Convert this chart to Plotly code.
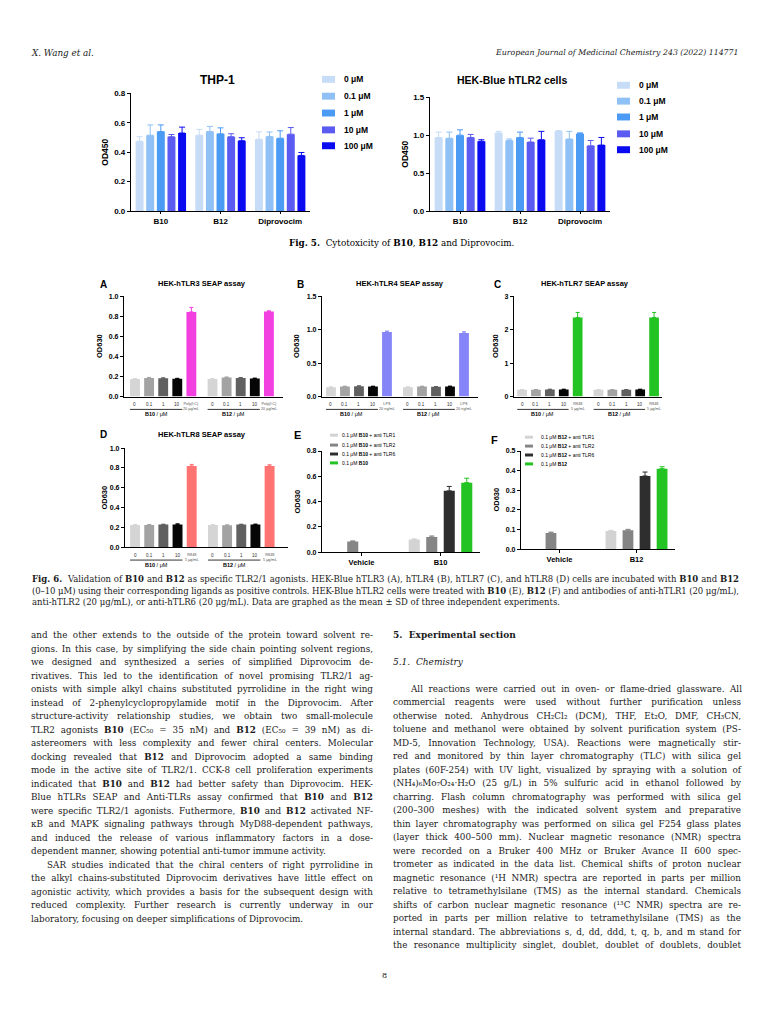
import json
import plotly.graph_objects as go

W, H = 768, 1024
SANS = "Liberation Sans"
SERIF = "DejaVu Serif"

# ================= Fig. 5 data =================
fig5_groups = ["B10", "B12", "Diprovocim"]
fig5_doses = ["0 μM", "0.1 μM", "1 μM", "10 μM", "100 μM"]
fig5_colors = ["#c7dcf6", "#8fc0f6", "#4b9bf5", "#5b5bf1", "#0b0bf1"]
thp1_mean = [[0.475, 0.515, 0.488],
             [0.515, 0.540, 0.507],
             [0.540, 0.525, 0.495],
             [0.505, 0.505, 0.522],
             [0.530, 0.478, 0.378]]
thp1_sd = [[0.030, 0.040, 0.050],
           [0.070, 0.035, 0.030],
           [0.045, 0.040, 0.050],
           [0.015, 0.020, 0.045],
           [0.040, 0.020, 0.020]]
hek2_mean = [[0.97, 1.03, 1.05],
             [0.96, 0.93, 0.95],
             [1.00, 0.97, 1.02],
             [0.97, 0.91, 0.86],
             [0.92, 0.94, 0.87]]
hek2_sd = [[0.07, 0.02, 0.01],
           [0.08, 0.02, 0.10],
           [0.07, 0.07, 0.01],
           [0.04, 0.05, 0.07],
           [0.02, 0.11, 0.10]]

# ================= Fig. 6 A-D data =================
seap_doses = ["0", "0.1", "1", "10"]
seap_compounds = ["B10", "B12"]
seap_grays = ["#d5d5d5", "#a3a3a3", "#606060", "#060606"]

tlr3_b10 = [0.175, 0.185, 0.182, 0.178]
tlr3_b12 = [0.175, 0.190, 0.185, 0.180]
tlr3_b10_sd = [0.004, 0.006, 0.005, 0.004]
tlr3_b12_sd = [0.004, 0.005, 0.005, 0.004]
tlr3_ctrl = [0.845, 0.850]
tlr3_ctrl_sd = [0.045, 0.006]

tlr4_b10 = [0.140, 0.150, 0.155, 0.150]
tlr4_b12 = [0.140, 0.150, 0.145, 0.150]
tlr4_b10_sd = [0.004, 0.005, 0.006, 0.005]
tlr4_b12_sd = [0.004, 0.005, 0.005, 0.006]
tlr4_ctrl = [0.965, 0.950]
tlr4_ctrl_sd = [0.015, 0.020]

tlr7_b10 = [0.20, 0.20, 0.21, 0.21]
tlr7_b12 = [0.20, 0.20, 0.20, 0.21]
tlr7_b10_sd = [0.01, 0.01, 0.01, 0.01]
tlr7_b12_sd = [0.01, 0.01, 0.01, 0.01]
tlr7_ctrl = [2.37, 2.37]
tlr7_ctrl_sd = [0.15, 0.15]

tlr8_b10 = [0.225, 0.225, 0.228, 0.230]
tlr8_b12 = [0.225, 0.222, 0.228, 0.228]
tlr8_b10_sd = [0.003, 0.003, 0.004, 0.006]
tlr8_b12_sd = [0.003, 0.003, 0.004, 0.005]
tlr8_ctrl = [0.820, 0.820]
tlr8_ctrl_sd = [0.015, 0.012]

ctrl_labels = ["Poly(I:C)<br>20 μg/mL", "LPS<br>20 ng/mL", "R848<br>5 μg/mL", "R848<br>5 μg/mL"]
ctrl_colors = ["#f23fe0", "#8585f8", "#22c322", "#ff7373"]
seap_titles = ["HEK-hTLR3 SEAP assay", "HEK-hTLR4 SEAP assay",
               "HEK-hTLR7 SEAP assay", "HEK-hTLR8 SEAP assay"]

# ================= Fig. 6 E-F data =================
anti_categories_e = ["Vehicle", "B10"]
anti_categories_f = ["Vehicle", "B12"]
anti_suffix = [" + anti TLR1", " + anti TLR2", " + anti TLR6", ""]
anti_colors = ["#d3d3d3", "#858585", "#2e2e2e", "#22c322"]

e_tlr1 = [None, 0.100]
e_tlr2 = [0.085, 0.120]
e_tlr6 = [None, 0.485]
e_only = [None, 0.550]
e_tlr1_sd = [0, 0.005]
e_tlr2_sd = [0.004, 0.008]
e_tlr6_sd = [0, 0.035]
e_only_sd = [0, 0.035]

f_tlr1 = [None, 0.093]
f_tlr2 = [0.083, 0.097]
f_tlr6 = [None, 0.373]
f_only = [None, 0.410]
f_tlr1_sd = [0, 0.003]
f_tlr2_sd = [0.004, 0.004]
f_tlr6_sd = [0, 0.020]
f_only_sd = [0, 0.010]

# ================= page text =================
header_left = "X. Wang et al."
header_right = "European Journal of Medicinal Chemistry 243 (2022) 114771"
fig5_caption = "<b>Fig. 5.</b>  Cytotoxicity of <b>B10</b>, <b>B12</b> and Diprovocim."
fig6_caption = [
    "<b>Fig. 6.</b>  Validation of <b>B10</b> and <b>B12</b> as specific TLR2/1 agonists. HEK-Blue hTLR3 (A), hTLR4 (B), hTLR7 (C), and hTLR8 (D) cells are incubated with <b>B10</b> and <b>B12</b>",
    "(0–10 μM) using their corresponding ligands as positive controls. HEK-Blue hTLR2 cells were treated with <b>B10</b> (E), <b>B12</b> (F) and antibodies of anti-hTLR1 (20 μg/mL),",
    "anti-hTLR2 (20 μg/mL), or anti-hTLR6 (20 μg/mL). Data are graphed as the mean ± SD of three independent experiments.",
]
left_column = [
    "and the other extends to the outside of the protein toward solvent re-",
    "gions. In this case, by simplifying the side chain pointing solvent regions,",
    "we designed and synthesized a series of simplified Diprovocim de-",
    "rivatives. This led to the identification of novel promising TLR2/1 ag-",
    "onists with simple alkyl chains substituted pyrrolidine in the right wing",
    "instead of 2-phenylcyclopropylamide motif in the Diprovocim. After",
    "structure-activity relationship studies, we obtain two small-molecule",
    "TLR2 agonists <b>B10</b> (EC₅₀ = 35 nM) and <b>B12</b> (EC₅₀ = 39 nM) as di-",
    "astereomers with less complexity and fewer chiral centers. Molecular",
    "docking revealed that <b>B12</b> and Diprovocim adopted a same binding",
    "mode in the active site of TLR2/1. CCK-8 cell proliferation experiments",
    "indicated that <b>B10</b> and <b>B12</b> had better safety than Diprovocim. HEK-",
    "Blue hTLRs SEAP and Anti-TLRs assay confirmed that <b>B10</b> and <b>B12</b>",
    "were specific TLR2/1 agonists. Futhermore, <b>B10</b> and <b>B12</b> activated NF-",
    "κB and MAPK signaling pathways through MyD88-dependent pathways,",
    "and induced the release of various inflammatory factors in a dose-",
    "dependent manner, showing potential anti-tumor immune activity.",
    "SAR studies indicated that the chiral centers of right pyrrolidine in",
    "the alkyl chains-substituted Diprovocim derivatives have little effect on",
    "agonistic activity, which provides a basis for the subsequent design with",
    "reduced complexity. Further research is currently underway in our",
    "laboratory, focusing on deeper simplifications of Diprovocim.",
]
left_indented = [17]
left_paragraph_ends = [16, 21]
right_heading = "<b>5.  Experimental section</b>"
right_subheading = "<i>5.1.  Chemistry</i>"
right_column = [
    "All reactions were carried out in oven- or flame-dried glassware. All",
    "commercial reagents were used without further purification unless",
    "otherwise noted. Anhydrous CH₂Cl₂ (DCM), THF, Et₂O, DMF, CH₃CN,",
    "toluene and methanol were obtained by solvent purification system (PS-",
    "MD-5, Innovation Technology, USA). Reactions were magnetically stir-",
    "red and monitored by thin layer chromatography (TLC) with silica gel",
    "plates (60F-254) with UV light, visualized by spraying with a solution of",
    "(NH₄)₆Mo₇O₂₄·H₂O (25 g/L) in 5% sulfuric acid in ethanol followed by",
    "charring. Flash column chromatography was performed with silica gel",
    "(200–300 meshes) with the indicated solvent system and preparative",
    "thin layer chromatography was performed on silica gel F254 glass plates",
    "(layer thick 400–500 mm). Nuclear magnetic resonance (NMR) spectra",
    "were recorded on a Bruker 400 MHz or Bruker Avance II 600 spec-",
    "trometer as indicated in the data list. Chemical shifts of proton nuclear",
    "magnetic resonance (¹H NMR) spectra are reported in parts per million",
    "relative to tetramethylsilane (TMS) as the internal standard. Chemicals",
    "shifts of carbon nuclear magnetic resonance (¹³C NMR) spectra are re-",
    "ported in parts per million relative to tetramethylsilane (TMS) as the",
    "internal standard. The abbreviations s, d, dd, ddd, t, q, b, and m stand for",
    "the resonance multiplicity singlet, doublet, doublet of doublets, doublet",
]
right_indented = [0]
page_number = "8"

# ================= helpers =================
def X(px):
    return px / W


def Y(py):
    return 1 - py / H


def err(sd, color, width=2.5):
    return dict(type="data", array=sd, arrayminus=[0] * len(sd), symmetric=False,
                color=color, thickness=1, width=width)


fig = go.Figure()
annotations = []
shapes = []
justify = {}   # annotation index -> target line width (px)


def txt(px, py, s, size, family=SANS, bold=False, italic=False, xanchor="left",
        yanchor="middle", angle=0, color="black", xref="paper", xval=None):
    annotations.append(dict(
        x=X(px) if xval is None else xval, y=Y(py), xref=xref, yref="paper", text=s,
        showarrow=False, xanchor=xanchor, yanchor=yanchor, textangle=angle,
        align=xanchor if xanchor in ("left", "right") else "center",
        borderpad=0,
        font=dict(family=family, size=size, color=color,
                  weight="bold" if bold else "normal",
                  style="italic" if italic else "normal")))
    return len(annotations) - 1


# axis boxes (left, right, top, bottom) in px
boxes = {
    1: (131, 310, 90, 209),
    2: (430, 610, 94, 209),
    3: (124, 283, 295, 396),
    4: (322, 478, 295, 396),
    5: (514, 662, 295, 396),
    6: (125, 288, 448, 548),
    7: (322, 480, 451, 553),
    8: (521, 675, 451, 550),
}

layout_axes = {}


def name(kind, i):
    return kind + ("axis" if i == 1 else "axis%d" % i)


def ref(kind, i):
    return kind if i == 1 else "%s%d" % (kind, i)


def ystyle(i, rng, dtick, fmt, size):
    l, r, t, b = boxes[i]
    layout_axes[name("y", i)] = dict(
        domain=[Y(b), Y(t)], range=rng, dtick=dtick, tick0=0, tickformat=fmt,
        anchor=ref("x", i), showline=True, linecolor="black", linewidth=1.2,
        ticks="outside", ticklen=3, tickwidth=1.2, tickcolor="black",
        showgrid=False, zeroline=False, fixedrange=True,
        tickfont=dict(family=SANS, size=size, color="black", weight="bold"))


def xstyle(i, **kw):
    l, r, t, b = boxes[i]
    d = dict(domain=[X(l), X(r)], anchor=ref("y", i), showline=True,
             linecolor="black", linewidth=1.2, showgrid=False, zeroline=False,
             fixedrange=True)
    d.update(kw)
    layout_axes[name("x", i)] = d


# ================= Fig. 5 =================
for ci, (means, sds, title, ttl_size, tx) in enumerate([
        (thp1_mean, thp1_sd, "THP-1", 12, 217),
        (hek2_mean, hek2_sd, "HEK-Blue hTLR2 cells", 10.5, 512)]):
    i = ci + 1
    for k, dose in enumerate(fig5_doses):
        fig.add_trace(go.Bar(
            x=fig5_groups, y=means[k], name=dose, marker=dict(color=fig5_colors[k], line_width=0),
            error_y=err(sds[k], fig5_colors[k], 3), xaxis=ref("x", i), yaxis=ref("y", i),
            showlegend=False))
    xstyle(i, type="category", range=[-0.5, 2.5], ticks="outside", ticklen=2,
           tickwidth=1.2, tickcolor="black", tickangle=0,
           tickfont=dict(family=SANS, size=8, color="black", weight="bold"))
    txt(tx, 77, title, ttl_size, bold=True, xanchor="center")

ystyle(1, [0, 0.8], 0.2, ".1f", 8)
ystyle(2, [0, 1.5], 0.5, ".1f", 8)
txt(105, 150, "OD450", 8.5, bold=True, xanchor="center", angle=-90)
txt(405, 152, "OD450", 8.5, bold=True, xanchor="center", angle=-90)

legend_rows = {1: (322, 343, [76, 93, 110, 127, 143]),
               2: (617, 638, [82, 98, 114, 131, 147])}
for i, (sx, tx, rows) in legend_rows.items():
    for k, dose in enumerate(fig5_doses):
        shapes.append(dict(type="rect", xref="paper", yref="paper",
                           x0=X(sx), x1=X(sx + 13), y0=Y(rows[k] + 3.5), y1=Y(rows[k] - 3.5),
                           fillcolor=fig5_colors[k], line_width=0))
        txt(tx, rows[k], dose, 8.5, bold=True)

txt(401, 241, fig5_caption, 8.8, family=SERIF, xanchor="center")

# ================= Fig. 6 A-D =================
seap_sets = [
    (tlr3_b10, tlr3_b12, tlr3_b10_sd, tlr3_b12_sd, tlr3_ctrl, tlr3_ctrl_sd),
    (tlr4_b10, tlr4_b12, tlr4_b10_sd, tlr4_b12_sd, tlr4_ctrl, tlr4_ctrl_sd),
    (tlr7_b10, tlr7_b12, tlr7_b10_sd, tlr7_b12_sd, tlr7_ctrl, tlr7_ctrl_sd),
    (tlr8_b10, tlr8_b12, tlr8_b10_sd, tlr8_b12_sd, tlr8_ctrl, tlr8_ctrl_sd),
]
seap_y = [([0, 1.0], 0.2, ".1f"), ([0, 1.5], 0.5, ".1f"), ([0, 3], 1, "d"), ([0, 1.0], 0.2, ".1f")]
seap_xrange = [[-0.78, 10.5], [-0.64, 10.5], [-0.58, 10.07], [-0.71, 10.8]]
seap_letters = [("A", 103, 283), ("B", 300, 283), ("C", 497, 283), ("D", 103, 434)]
seap_title_pos = [(202, 282), (400, 282), (585, 282), (202, 434)]
seap_ytitle = [(100, 345), (297, 345), (496, 345), (105, 498)]
group_shift = 5.5
bar_w = 0.7

for p, (b10, b12, b10sd, b12sd, ctrl, ctrlsd) in enumerate(seap_sets):
    i = p + 3
    xa, ya = ref("x", i), ref("y", i)
    for k, dose in enumerate(seap_doses):
        fig.add_trace(go.Bar(
            x=[k, k + group_shift], y=[b10[k], b12[k]], name=dose + " μM",
            width=bar_w, offset=-bar_w / 2,
            marker=dict(color=seap_grays[k], line_width=0),
            error_y=err([b10sd[k], b12sd[k]], seap_grays[k], 2),
            xaxis=xa, yaxis=ya, showlegend=False))
    nd = len(seap_doses)
    fig.add_trace(go.Bar(
        x=[nd, nd + group_shift], y=ctrl, name=ctrl_labels[p].replace("<br>", " "),
        width=bar_w, offset=-bar_w / 2,
        marker=dict(color=ctrl_colors[p], line_width=0),
        error_y=err(ctrlsd, ctrl_colors[p], 2),
        xaxis=xa, yaxis=ya, showlegend=False))
    xstyle(i, type="linear", range=seap_xrange[p], showticklabels=False, ticks="")
    rng, dt, fmt = seap_y[p]
    ystyle(i, rng, dt, fmt, 7)
    axis_bottom = boxes[i][3]
    # category labels under each bar (placed at the bar's x on the axis)
    for g, comp in enumerate(seap_compounds):
        for k, dose in enumerate(seap_doses):
            txt(0, axis_bottom + 8, dose, 4.6, xanchor="center", color="#333333",
                xref=xa, xval=k + g * group_shift)
        txt(0, axis_bottom + 5, ctrl_labels[p], 3.8, xanchor="center", yanchor="top",
            color="#555555", xref=xa, xval=nd + g * group_shift)
        shapes.append(dict(type="line", xref=xa, yref="paper",
                           x0=g * group_shift - bar_w / 2, x1=(nd - 1) + g * group_shift + bar_w / 2,
                           y0=Y(axis_bottom + 13), y1=Y(axis_bottom + 13),
                           line=dict(color="black", width=0.8)))
        txt(0, axis_bottom + 17.5, "<b>%s</b> / μM" % comp, 5.5, xanchor="center",
            xref=xa, xval=(nd - 1) / 2 + g * group_shift)
    L, lx, ly = seap_letters[p]
    txt(lx, ly, L, 10, bold=True, xanchor="center")
    tx, ty = seap_title_pos[p]
    txt(tx, ty, seap_titles[p], 7.5, bold=True, xanchor="center")
    yx, yy = seap_ytitle[p]
    txt(yx, yy, "OD630", 7.5, bold=True, xanchor="center", angle=-90)

# ================= Fig. 6 E-F =================
ef_sets = [
    ("B10", anti_categories_e, [e_tlr1, e_tlr2, e_tlr6, e_only],
     [e_tlr1_sd, e_tlr2_sd, e_tlr6_sd, e_only_sd]),
    ("B12", anti_categories_f, [f_tlr1, f_tlr2, f_tlr6, f_only],
     [f_tlr1_sd, f_tlr2_sd, f_tlr6_sd, f_only_sd]),
]
ef_y = [([0, 0.8], 0.2, ".1f"), ([0, 0.5], 0.1, ".1f")]
ef_letters = [("E", 297, 435), ("F", 494, 440)]
ef_ytitle = [(298, 502), (497, 500)]
ef_legend = [(330, 341, [435, 445, 454, 463]), (525, 540, [437, 446, 455, 464])]
slot = 0.2215
ef_bar_w = 0.14

for p, (comp, cats, series, sds) in enumerate(ef_sets):
    i = p + 7
    xa, ya = ref("x", i), ref("y", i)
    for k in range(len(series)):
        label = "0.1 μM <b>%s</b>%s" % (comp, anti_suffix[k])
        fig.add_trace(go.Bar(
            x=cats, y=series[k], name=label.replace("<b>", "").replace("</b>", ""),
            width=ef_bar_w, offset=(k - 1.5) * slot - ef_bar_w / 2,
            marker=dict(color=anti_colors[k], line_width=0),
            error_y=err(sds[k], anti_colors[k], 2.5),
            xaxis=xa, yaxis=ya, showlegend=False))
        sx, tx, rows = ef_legend[p]
        shapes.append(dict(type="rect", xref="paper", yref="paper",
                           x0=X(sx), x1=X(sx + 8), y0=Y(rows[k] + 1.5), y1=Y(rows[k] - 1.5),
                           fillcolor=anti_colors[k], line_width=0))
        txt(tx, rows[k], label, 5)
    xstyle(i, type="category", range=[-0.5, 1.5], ticks="outside", ticklen=3,
           tickwidth=1.2, tickcolor="black", tickangle=0,
           tickfont=dict(family=SANS, size=7.5, color="black", weight="bold"))
    rng, dt, fmt = ef_y[p]
    ystyle(i, rng, dt, fmt, 7)
    L, lx, ly = ef_letters[p]
    txt(lx, ly, L, 11, bold=True, xanchor="center")
    yx, yy = ef_ytitle[p]
    txt(yx, yy, "OD630", 7.5, bold=True, xanchor="center", angle=-90)

# ================= captions & body text =================
TEXT_COLOR = "#1a1a1a"
CAP_L, CAP_R = 31, 738
for j, line in enumerate(fig6_caption):
    a = txt(CAP_L, 580 + j * 11.8, line, 8.5, family=SERIF, color=TEXT_COLOR)
    if j < len(fig6_caption) - 1:
        justify[a] = CAP_R - CAP_L

txt(30, 49, header_left, 8.8, family=SERIF, italic=True, color=TEXT_COLOR)
txt(740, 49, header_right, 7.8, family=SERIF, italic=True, xanchor="right", color=TEXT_COLOR)

BODY = 8.8
line_h = 13.62
LC_L, LC_R = 30, 372
for j, line in enumerate(left_column):
    indent = 16 if j in left_indented else 0
    a = txt(LC_L + indent, 637 + j * line_h, line, BODY, family=SERIF, color=TEXT_COLOR)
    if j not in left_paragraph_ends:
        justify[a] = LC_R - LC_L - indent

RC_L, RC_R = 392, 740
txt(RC_L, 637, right_heading, 9, family=SERIF, color=TEXT_COLOR)
txt(RC_L, 664, right_subheading, 9, family=SERIF, color=TEXT_COLOR)
for j, line in enumerate(right_column):
    indent = 17 if j in right_indented else 0
    a = txt(RC_L + indent, 691 + j * line_h, line, BODY, family=SERIF, color=TEXT_COLOR)
    justify[a] = RC_R - RC_L - indent

txt(384, 980, page_number, 8, family=SERIF, xanchor="center", color=TEXT_COLOR)

fig.update_layout(
    width=W, height=H, margin=dict(l=0, r=0, t=0, b=0),
    paper_bgcolor="white", plot_bgcolor="white",
    barmode="group", bargap=0.11, bargroupgap=0.25,
    showlegend=False, annotations=annotations, shapes=shapes,
    **layout_axes)

# justify body-text lines: spread word spaces, or tighten letters on over-long lines
justify_js = """
document.body.style.margin='0';document.body.style.overflow='hidden';
var J = %s;
var gd = document.getElementById('{plot_id}');
gd.querySelectorAll('g.annotation').forEach(function(g){
  var idx = g.getAttribute('data-index');
  if (!(idx in J)) return;
  var t = g.querySelector('text.annotation-text');
  if (!t) return;
  var w = t.getComputedTextLength();
  var s = t.textContent;
  var n = (s.match(/ /g) || []).length;
  if (w < J[idx]) {
    if (n > 0) t.style.wordSpacing = ((J[idx] - w) / n) + 'px';
  } else if (w > J[idx]) {
    t.style.letterSpacing = ((J[idx] - w) / Math.max(1, s.length - 1)) + 'px';
  }
});
""" % json.dumps({str(k): v for k, v in justify.items()})

fig.write_html("out.html", config={"displayModeBar": False}, post_script=justify_js)
